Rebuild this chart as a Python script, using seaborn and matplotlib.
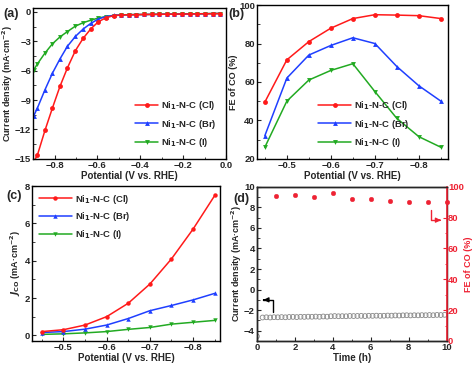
import numpy as np
import pandas as pd
import seaborn as sns
import matplotlib.pyplot as plt
from matplotlib.ticker import MultipleLocator

# ---- data ----
# (a) LSV curves
pot_a = [-0.897, -0.88, -0.845, -0.81, -0.775, -0.74, -0.703, -0.667, -0.632, -0.596,
         -0.561, -0.525, -0.49, -0.454, -0.418, -0.383, -0.347, -0.312, -0.276, -0.241,
         -0.205, -0.17, -0.134, -0.099, -0.063, -0.028]
j_cl = [-15.3, -14.6, -12.1, -9.8, -7.6, -5.7, -3.95, -2.7, -1.75, -1.0,
        -0.6, -0.38, -0.3, -0.28, -0.27, -0.26, -0.25, -0.24, -0.23, -0.22,
        -0.21, -0.2, -0.19, -0.18, -0.17, -0.16]
j_br = [-10.6, -9.8, -7.95, -6.25, -4.8, -3.5, -2.5, -1.75, -1.18, -0.72,
        -0.47, -0.35, -0.3, -0.28, -0.27, -0.26, -0.25, -0.24, -0.23, -0.22,
        -0.21, -0.2, -0.19, -0.18, -0.17, -0.16]
j_i = [-5.9, -5.3, -4.2, -3.25, -2.55, -2.0, -1.45, -1.1, -0.85, -0.62,
       -0.48, -0.38, -0.32, -0.29, -0.27, -0.26, -0.25, -0.24, -0.23, -0.22,
       -0.21, -0.2, -0.19, -0.18, -0.17, -0.16]

# (b) FE of CO and (c) J_CO
pot_b = [-0.45, -0.5, -0.55, -0.6, -0.65, -0.7, -0.75, -0.8, -0.85]
fe_cl = [49.5, 71.5, 81, 88, 93, 95, 94.8, 94.5, 93]
fe_br = [32, 62, 74, 79, 83, 80, 68, 58, 50]
fe_i = [26, 50, 61, 66, 69.5, 55, 41, 31.5, 26]
jco_cl = [0.2, 0.3, 0.55, 1.0, 1.72, 2.75, 4.1, 5.7, 7.5]
jco_br = [0.15, 0.2, 0.33, 0.55, 0.9, 1.32, 1.6, 1.9, 2.25]
jco_i = [0.05, 0.08, 0.13, 0.2, 0.32, 0.42, 0.6, 0.7, 0.8]

# (d) stability
time_j = [0.0, 0.3, 0.5, 0.7, 0.9, 1.1, 1.3, 1.5, 1.7, 1.9, 2.1, 2.3, 2.5, 2.7, 2.9,
          3.1, 3.3, 3.5, 3.7, 3.9, 4.1, 4.3, 4.5, 4.7, 4.9, 5.1, 5.3, 5.5, 5.7, 5.9,
          6.1, 6.3, 6.5, 6.7, 6.9, 7.1, 7.3, 7.5, 7.7, 7.9, 8.1, 8.3, 8.5, 8.7, 8.9,
          9.1, 9.3, 9.5, 9.7, 9.9]
cur_j = [-4.55, -2.72, -2.7, -2.72, -2.69, -2.7, -2.68, -2.7, -2.67, -2.66, -2.68, -2.65, -2.66, -2.64, -2.65,
         -2.63, -2.65, -2.62, -2.64, -2.6, -2.58, -2.6, -2.59, -2.6, -2.57, -2.58, -2.57, -2.56, -2.58, -2.55,
         -2.56, -2.54, -2.56, -2.55, -2.53, -2.54, -2.52, -2.53, -2.51, -2.5, -2.52, -2.5, -2.51, -2.49, -2.5,
         -2.48, -2.5, -2.47, -2.48, -2.46]
time_fe = [1, 2, 3, 4, 5, 6, 7, 8, 9, 10]
fe_t = [94, 94.5, 93.5, 96, 92, 92, 91, 90.5, 90.5, 90.5]

labels = ['Ni$_1$-N-C (Cl)', 'Ni$_1$-N-C (Br)', 'Ni$_1$-N-C (I)']
colors = ['#ff1a1a', '#1f3fff', '#22aa22']
markers = ['o', '^', 'v']

sns.set_style('ticks')
plt.rcParams['font.family'] = ['Liberation Sans', 'DejaVu Sans']
plt.rcParams['font.weight'] = 'bold'
plt.rcParams['axes.labelweight'] = 'bold'
plt.rcParams['font.size'] = 7
plt.rcParams['axes.labelsize'] = 6.5
plt.rcParams['axes.linewidth'] = 1.0

fig = plt.figure(figsize=(4.74, 3.65), dpi=100)
ax_a = fig.add_axes([0.070, 0.565, 0.407, 0.413])
ax_b = fig.add_axes([0.542, 0.565, 0.403, 0.421])
ax_c = fig.add_axes([0.068, 0.066, 0.396, 0.424])
ax_d = fig.add_axes([0.542, 0.066, 0.400, 0.422])


def style(ax):
    ax.tick_params(direction='in', which='both', top=False, right=False, labelsize=6.8, pad=1.5)
    ax.tick_params(which='major', length=3)
    ax.tick_params(which='minor', length=1.8)
    for s in ax.spines.values():
        s.set_visible(True)
        s.set_color('black')


def curves(ax, x, ys, ms):
    for y, lab, c, m in reversed(list(zip(ys, labels, colors, markers))):
        sns.lineplot(x=x, y=y, ax=ax, color=c, marker=m, markersize=ms, markeredgewidth=0,
                     linewidth=1.1, label=lab, sort=False)
    h, l = ax.get_legend_handles_labels()
    return h[::-1], l[::-1]


# (a)
h, l = curves(ax_a, pot_a, [j_cl, j_br, j_i], 3.5)
ax_a.set_xlim(-0.9, 0.0)
ax_a.set_ylim(-15, 0.4)
ax_a.xaxis.set_major_locator(MultipleLocator(0.2))
ax_a.xaxis.set_minor_locator(MultipleLocator(0.1))
ax_a.yaxis.set_major_locator(MultipleLocator(3))
ax_a.yaxis.set_minor_locator(MultipleLocator(1.5))
ax_a.set_xlabel('Potential (V vs. RHE)', labelpad=1, fontsize=7)
ax_a.set_ylabel('Current density (mA·cm$^{-2}$)', labelpad=0)
ax_a.legend(h, l, loc='lower right', frameon=False, fontsize=6.8, handlelength=2.5,
            handletextpad=0.3, labelspacing=0.6, borderaxespad=0.6)
style(ax_a)

# (b)
h, l = curves(ax_b, pot_b, [fe_cl, fe_br, fe_i], 3.5)
ax_b.set_xlim(-0.432, -0.866)
ax_b.set_ylim(20, 100)
ax_b.xaxis.set_major_locator(MultipleLocator(0.1))
ax_b.xaxis.set_minor_locator(MultipleLocator(0.05))
ax_b.yaxis.set_major_locator(MultipleLocator(20))
ax_b.yaxis.set_minor_locator(MultipleLocator(10))
ax_b.set_xlabel('Potential (V vs. RHE)', labelpad=1, fontsize=7)
ax_b.set_ylabel('FE of CO (%)', labelpad=1)
ax_b.legend(h, l, loc='lower center', bbox_to_anchor=(0.56, 0.0), frameon=False, fontsize=6.8,
            handlelength=3.5, handletextpad=0.3, labelspacing=0.6, borderaxespad=0.6)
style(ax_b)

# (c)
h, l = curves(ax_c, pot_b, [jco_cl, jco_br, jco_i], 3.2)
ax_c.set_xlim(-0.428, -0.862)
ax_c.set_ylim(-0.3, 8)
ax_c.xaxis.set_major_locator(MultipleLocator(0.1))
ax_c.xaxis.set_minor_locator(MultipleLocator(0.05))
ax_c.yaxis.set_major_locator(MultipleLocator(2))
ax_c.yaxis.set_minor_locator(MultipleLocator(1))
ax_c.set_xlabel('Potential (V vs. RHE)', labelpad=1, fontsize=7)
ax_c.set_ylabel('$\\mathbfit{J}_{\\mathbf{CO}}$ (mA·cm$^{-2}$)', labelpad=1)
ax_c.legend(h, l, loc='upper left', frameon=False, fontsize=6.8, handlelength=3.5,
            handletextpad=0.3, labelspacing=0.5, borderaxespad=0.3)
style(ax_c)

# (d)
sns.scatterplot(x=time_j, y=cur_j, ax=ax_d, marker='o', s=12, facecolor='none',
                edgecolor='#888888', linewidth=0.6)
ax_d.set_xlim(0, 10)
ax_d.set_ylim(-5, 10)
ax_d.xaxis.set_major_locator(MultipleLocator(2))
ax_d.xaxis.set_minor_locator(MultipleLocator(1))
ax_d.yaxis.set_major_locator(MultipleLocator(2))
ax_d.yaxis.set_minor_locator(MultipleLocator(1))
ax_d.set_xlabel('Time (h)', labelpad=1, fontsize=7)
ax_d.set_ylabel('Current density (mA·cm$^{-2}$)', labelpad=0)
style(ax_d)
ax_d.plot([0.84, 0.84, 0.3], [-2.15, -1.0, -1.0], color='black', lw=1.0)
ax_d.annotate('', xy=(0.2, -1.0), xytext=(0.5, -1.0),
              arrowprops=dict(arrowstyle='-|>', color='black', lw=1.0, mutation_scale=7))

ax_e = ax_d.twinx()
red = '#ee2233'
sns.scatterplot(x=time_fe, y=fe_t, ax=ax_e, color=red, s=11, edgecolor=red, clip_on=False)
ax_e.set_ylim(0, 100)
ax_e.yaxis.set_major_locator(MultipleLocator(20))
ax_e.yaxis.set_minor_locator(MultipleLocator(10))
ax_e.set_ylabel('FE of CO (%)', color=red, labelpad=0)
ax_e.tick_params(axis='y', direction='in', which='both', colors=red, labelsize=6.8, pad=1)
ax_e.tick_params(which='major', length=3)
ax_e.tick_params(which='minor', length=1.8)
ax_e.spines['right'].set_color(red)
ax_e.spines['right'].set_linewidth(1.2)
ax_e.plot([9.16, 9.16, 9.6], [85, 78.4, 78.4], color=red, lw=1.0)
ax_e.annotate('', xy=(9.85, 78.4), xytext=(9.5, 78.4),
              arrowprops=dict(arrowstyle='-|>', color=red, lw=1.0, mutation_scale=7))

# panel letters (figure pixel positions from the reference)
for x, y, t in [(3, 8, '(a)'), (228, 8, '(b)'), (6, 190, '(c)'), (233, 193, '(d)')]:
    fig.text(x / 474, 1 - y / 365, t, fontsize=9, fontweight='bold', va='top', ha='left')

fig.savefig('out.png', dpi=100)
